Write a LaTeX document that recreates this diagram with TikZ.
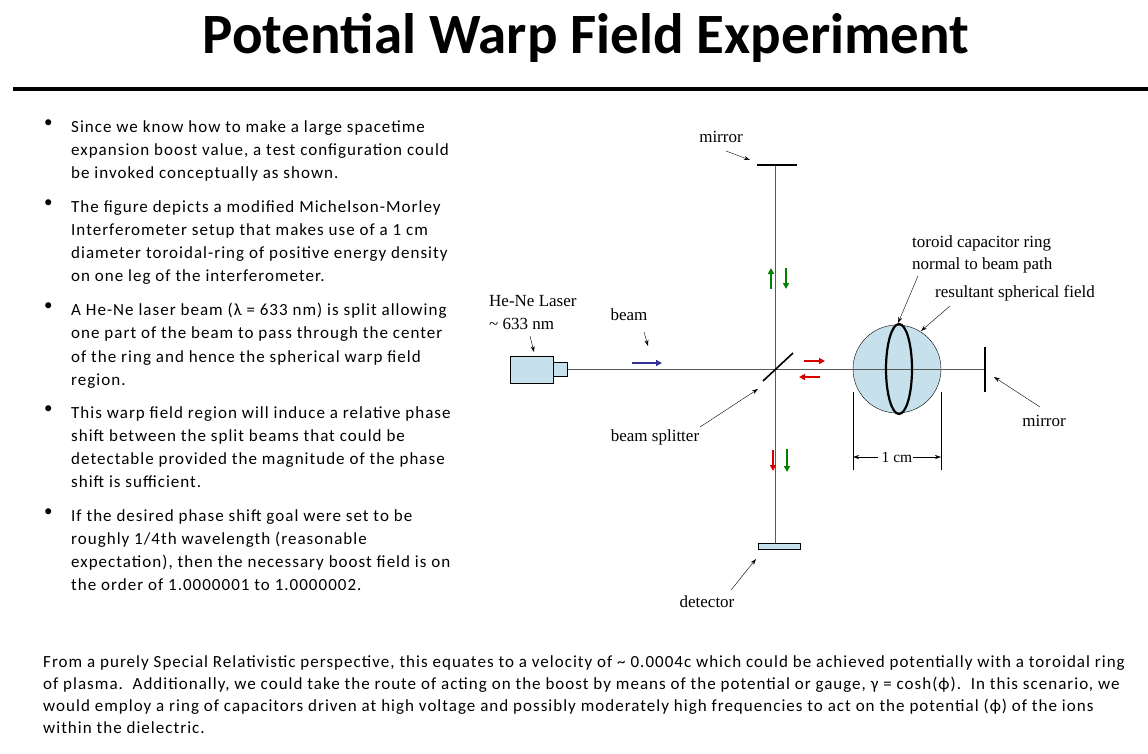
\documentclass[tikz,border=0pt]{standalone}
\usepackage{fontspec}
\setmainfont{Carlito}
\newfontfamily\bodyf[LetterSpace=6]{Carlito}
\newfontfamily\tnr{Liberation Serif}
\usetikzlibrary{arrows.meta}
\begin{document}
\begin{tikzpicture}[x=1pt,y=-1pt,
  body/.style={anchor=north west,font=\bodyf\fontsize{17}{23.3}\selectfont,align=left,inner sep=0},
  lbl/.style={font=\tnr\fontsize{17}{22}\selectfont,inner sep=0,align=left},
  ptr/.style={-{Stealth[length=6pt,width=4pt]},thin},
  beamline/.style={draw=gray!70!black,line width=0.5pt},
  darr/.style={-{Triangle[length=6pt,width=6pt]},line width=2pt}]
\useasboundingbox (0,0) rectangle (1148,753);
\node[font=\bfseries\fontsize{57}{60}\selectfont] (title) at (586,38) {Potential Warp Field Experiment};
\draw[line width=4pt] (13,89) -- (1148,89);
% bullets
\foreach \y/\t in {120/{Since we know how to make a large spacetime\\expansion boost value, a test configuration could\\be invoked conceptually as shown.},
 200/{The figure depicts a modified Michelson-Morley\\Interferometer setup that makes use of a 1 cm\\diameter toroidal-ring of positive energy density\\on one leg of the interferometer.},
 303/{A He-Ne laser beam (λ = 633 nm) is split allowing\\one part of the beam to pass through the center\\of the ring and hence the spherical warp field\\region.},
 406/{This warp field region will induce a relative phase\\shift between the split beams that could be\\detectable provided the magnitude of the phase\\shift is sufficient.},
 509/{If the desired phase shift goal were set to be\\roughly 1/4th wavelength (reasonable\\expectation), then the necessary boost field is on\\the order of 1.0000001 to 1.0000002.}}{
 \node[body] at (71,\y) {\t};
 \node[body] at (44,\y) {•};
}
\node[body,font=\bodyf\fontsize{17}{22.2}\selectfont] (para) at (43,655) {From a purely Special Relativistic perspective, this equates to a velocity of \textasciitilde\ 0.0004c which could be achieved potentially with a toroidal ring\\of plasma.\ \ Additionally, we could take the route of acting on the boost by means of the potential or gauge, γ = cosh(ϕ).\ \ In this scenario, we\\would employ a ring of capacitors driven at high voltage and possibly moderately high frequencies to act on the potential (ϕ) of the ions\\within the dielectric.};
% diagram
\draw[beamline] (567,369) -- (985,369);
\draw[beamline] (775,165) -- (775,543);
\draw[fill=cyan!20!white!85!gray] (897,369) circle[radius=44];
\draw[beamline] (853,369) -- (985,369);
\draw[line width=2.2pt] (899,369) ellipse[x radius=13,y radius=45];
\node[draw,fill=cyan!20!white!85!gray,minimum width=43pt,minimum height=27pt,inner sep=0,anchor=east] (laser) at (553,369.5) {};
\node[draw,fill=cyan!20!white!85!gray,minimum width=14pt,minimum height=14pt,inner sep=0,anchor=west] (nozzle) at (553,369.5) {};
\draw[line width=2pt] (757,165) -- (797,165);
\node[draw,fill=cyan!20!white!85!gray,minimum width=42pt,minimum height=6pt,inner sep=0] (det) at (779,546) {};
\draw[line width=2pt] (985,347) -- (985,392);
\draw[line width=1.6pt] (763,381) -- (793,353);
% arrows
\draw[darr,blue!50!black!80!white] (632,363) -- (662,363);
\draw[darr,green!50!black] (771,289) -- (771,268);
\draw[darr,green!50!black] (786,268) -- (786,289);
\draw[darr,red!85!black] (804,361) -- (825,361);
\draw[darr,red!85!black] (820,377) -- (799,377);
\draw[darr,red!85!black] (773,450) -- (773,471);
\draw[darr,green!50!black] (787,449) -- (787,472);
% dimension
\draw[thin] (853,392) -- (853,470) (941,392) -- (941,470);
\node[lbl,font=\tnr\fontsize{15.5}{15}\selectfont] (onecm) at (897,457) {1 cm};
\draw[ptr] (onecm.west) ++(-4,0) -- (853,457);
\draw[ptr] (onecm.east) ++(1,0) -- (941,457);
% labels
\node[lbl] (lmt) at (721,137) {mirror};
\draw[ptr] (726,151) -- (750,160);
\node[lbl,anchor=west] (llas) at (489,301) {He-Ne Laser};
\node[lbl,anchor=west] (l633) at (489,324) {\textasciitilde\ 633 nm};
\draw[ptr] (530,336) -- (534,352);
\node[lbl] (lbeam) at (629,315) {beam};
\draw[ptr] (644,332) -- (648,346);
\node[lbl] (lbs) at (655,437) {beam splitter};
\draw[ptr] (700,427) -- (758,389);
\node[lbl] (ldet) at (707,602) {detector};
\draw[ptr] (731,590) -- (756,559);
\node[lbl,anchor=west] (ltor) at (912,243) {toroid capacitor ring};
\node[lbl,anchor=west] (lnorm) at (912,265) {normal to beam path};
\draw[ptr] (918,276) -- (898,323);
\node[lbl,anchor=west] (lres) at (935,293) {resultant spherical field};
\draw[ptr] (950,306) -- (921,331);
\node[lbl] (lmr) at (1044,421) {mirror};
\draw[ptr] (1040,407) -- (994,377);
\end{tikzpicture}
\end{document}
